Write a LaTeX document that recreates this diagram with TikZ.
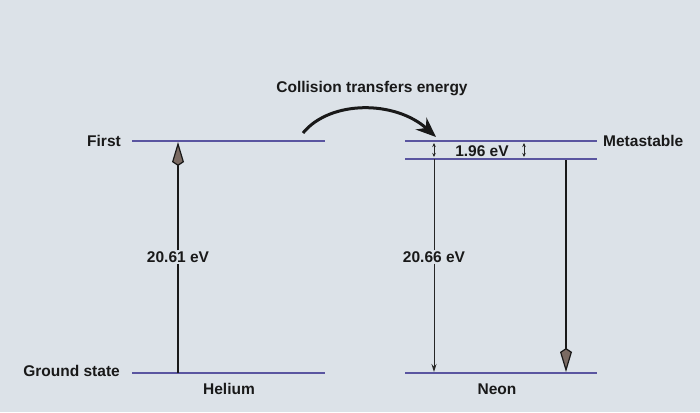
\documentclass[tikz,border=0pt]{standalone}
\usepackage{fontspec}
\setmainfont{Liberation Sans}
\usetikzlibrary{arrows.meta}
\definecolor{bg}{HTML}{DCE2E8}
\definecolor{lvl}{HTML}{5A55A0}
\definecolor{tipfill}{HTML}{7A6A62}
\tikzset{
  level/.style={draw=lvl, line width=2.2pt},
  lbl/.style={font=\bfseries\fontsize{15.5}{17}\selectfont, text=black!90, inner sep=1pt},
  vline/.style={draw=black!90, line width=1.8pt},
  thin/.style={draw=black!85, line width=1pt},
  bigtip/.style={-{Kite[length=24pt,width=12pt,inset=4pt,fill=tipfill,line width=1.2pt]}},
}
\begin{document}
\begin{tikzpicture}[x=1pt,y=-1pt]
\fill[bg] (0,0) rectangle (700,412);
\useasboundingbox (0,0) rectangle (700,412);
% helium levels
\coordinate (hf1) at (132,141); \coordinate (hf2) at (325,141);
\coordinate (hg1) at (132,373); \coordinate (hg2) at (325,373);
\draw[level] (hf1) -- (hf2);
\draw[level] (hg1) -- (hg2);
% neon levels
\coordinate (nm1) at (405,141); \coordinate (nm2) at (597,141);
\coordinate (nl1) at (405,159); \coordinate (nl2) at (597,159);
\coordinate (ng1) at (405,373); \coordinate (ng2) at (597,373);
\draw[level] (nm1) -- (nm2);
\draw[level] (nl1) -- (nl2);
\draw[level] (ng1) -- (ng2);
% labels
\node[lbl, anchor=east] (first) at (122,141) {First};
\node[lbl, anchor=east] (ground) at (121,371) {Ground state};
\node[lbl] (helium) at (229,389) {Helium};
\node[lbl] (neon) at (497,389) {Neon};
\node[lbl, anchor=west] (meta) at (602,141) {Metastable};
\node[lbl] (coll) at (372,89) {Collision transfers energy};
% helium arrow
\coordinate (ha0) at (178,373); \coordinate (ha1) at (178,142);
\node[lbl, fill=bg] (he) at (178,257) {20.61 eV};
\draw[vline] (ha0) -- (he.south);
\draw[vline, bigtip] (he.north) -- (ha1);
% neon 20.66 arrow
\coordinate (na0) at (434,159); \coordinate (na1) at (434,372);
\node[lbl, fill=bg] (ne) at (434,257) {20.66 eV};
\draw[thin] (na0) -- (ne.north);
\draw[thin, -{Stealth[length=8pt,width=5pt]}] (ne.south) -- (na1);
% 1.96 eV
\node[lbl] (d) at (482,151) {1.96 eV};
\coordinate (da) at (434,143); \coordinate (db) at (434,157);
\coordinate (dc) at (524,143); \coordinate (dd) at (524,157);
\draw[thin, {Stealth[length=4pt,width=3.5pt]}-{Stealth[length=4pt,width=3.5pt]}] (da) -- (db);
\draw[thin, {Stealth[length=4pt,width=3.5pt]}-{Stealth[length=4pt,width=3.5pt]}] (dc) -- (dd);
% big neon arrow
\coordinate (nb0) at (566,160); \coordinate (nb1) at (566,372);
\draw[vline, bigtip] (nb0) -- (nb1);
% collision curved arrow
\coordinate (c0) at (303,133); \coordinate (c1) at (436,137);
\draw[line width=3pt, black!90, -{Stealth[length=20pt,width=16pt]}] (c0) .. controls (330,100) and (395,100) .. (c1);
\end{tikzpicture}
\end{document}
